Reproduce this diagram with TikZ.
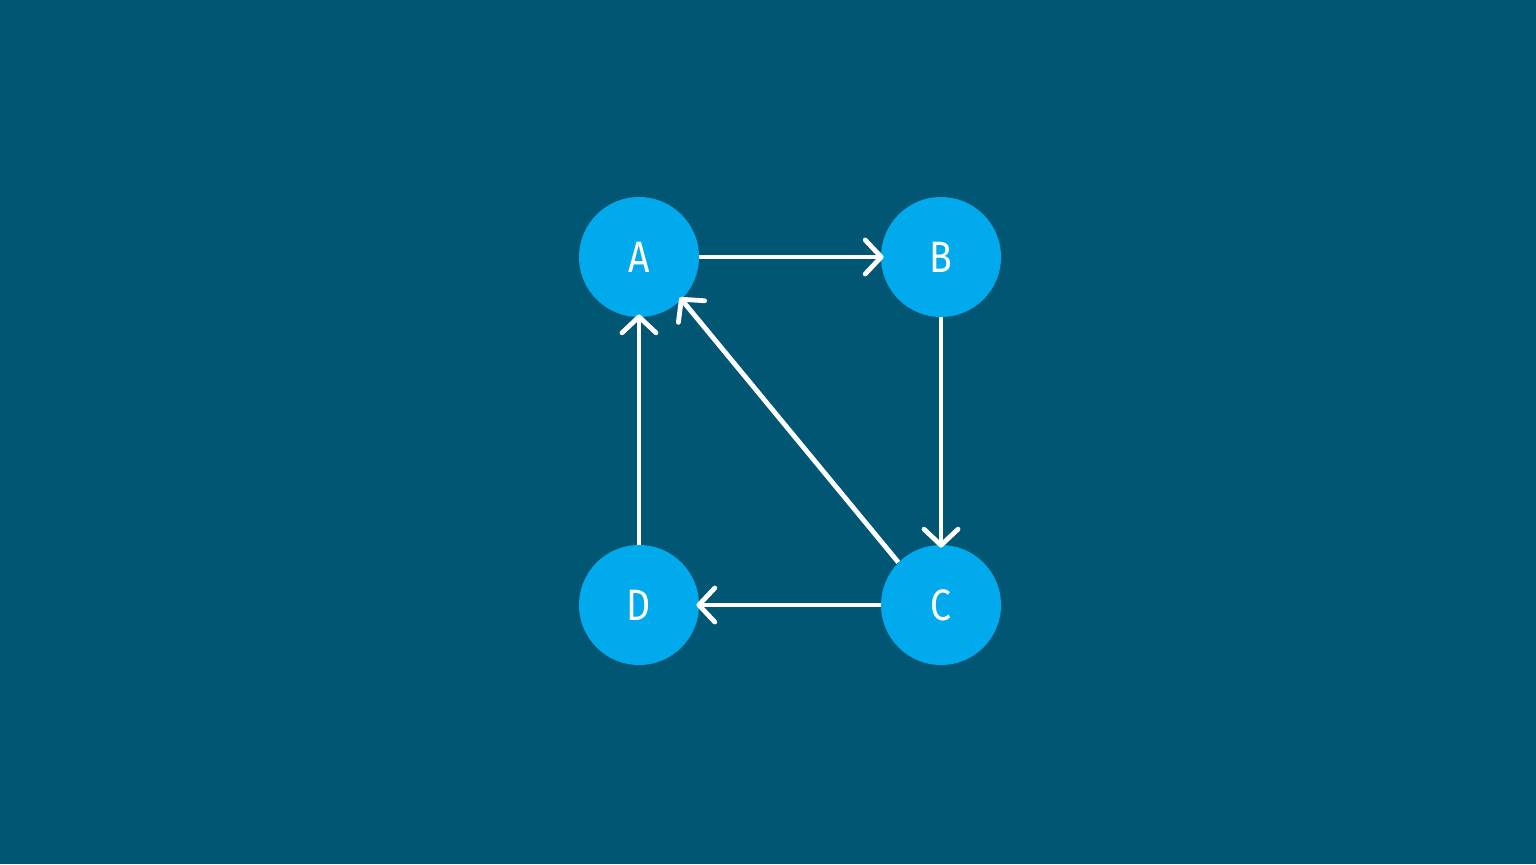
\documentclass[tikz,border=0pt]{standalone}
\usepackage{fontspec}
\setmainfont{Fira Sans}[FakeStretch=0.85]
\usetikzlibrary{arrows.meta}
\definecolor{bgcol}{RGB}{0,86,115}
\definecolor{nodecol}{RGB}{0,170,237}
\begin{document}
\begin{tikzpicture}[x=1pt,y=1pt,
  vertex/.style={circle,fill=nodecol,minimum size=60pt,inner sep=0pt,text=white,font=\fontsize{22}{22}\selectfont},
  edge/.style={draw=white,line width=2.4pt,-{Straight Barb[length=8pt,width=17pt,round]},shorten >=-1.5pt}]
\fill[bgcol] (0,0) rectangle (768,432);
\useasboundingbox (0,0) rectangle (768,432);
\node[vertex] (A) at (319.5,303.5) {A};
\node[vertex] (B) at (470.5,303.5) {B};
\node[vertex] (C) at (470.5,129.5) {C};
\node[vertex] (D) at (319.5,129.5) {D};
\draw[edge] (A) -- (B);
\draw[edge] (B) -- (C);
\draw[edge] (C) -- (D);
\draw[edge] (D) -- (A);
\draw[edge] (C.135) -- (A.-45);
\end{tikzpicture}
\end{document}
